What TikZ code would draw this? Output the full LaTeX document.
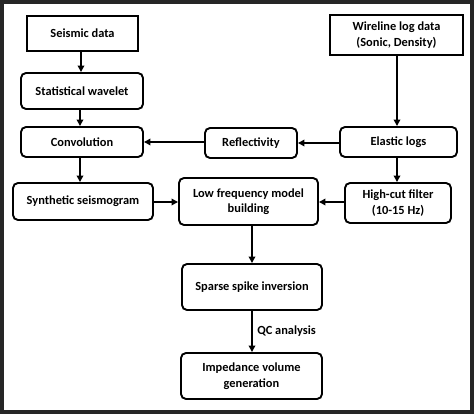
\documentclass[tikz,border=0pt]{standalone}
\usepackage{fontspec}
\setmainfont{Carlito}
\usetikzlibrary{arrows.meta,calc}
\begin{document}
\begin{tikzpicture}[x=1pt,y=-1pt,
  sbox/.style={draw=black,line width=1.9pt,rectangle,inner sep=2pt,font=\bfseries\fontsize{12.4}{15.5}\selectfont,align=center},
  rbox/.style={sbox,rounded corners=5pt},
  arr/.style={line width=1.9pt,-{Triangle[length=6.5pt,width=6.5pt]}},
  lbl/.style={font=\bfseries\fontsize{12.4}{15.5}\selectfont}]
\useasboundingbox (0,0) rectangle (474,414);
\draw[line width=4pt,draw=black!85] (2,2) rectangle (472,412);
\node[sbox,minimum width=111pt,minimum height=35pt] (seis) at (82.5,33.5) {Seismic data};
\node[rbox,minimum width=122pt,minimum height=36pt] (wave) at (82,91) {Statistical wavelet};
\node[rbox,minimum width=122pt,minimum height=30pt] (conv) at (82,142) {Convolution};
\node[rbox,minimum width=140pt,minimum height=37pt] (synth) at (83,201.5) {Synthetic seismogram};
\node[rbox,minimum width=139pt,minimum height=47pt] (lowf) at (248.5,201.5) {Low frequency model\\building};
\node[rbox,minimum width=140pt,minimum height=46pt] (sparse) at (252,287) {Sparse spike inversion};
\node[rbox,minimum width=141pt,minimum height=46pt] (imp) at (251.5,376) {Impedance volume\\generation};
\node[rbox,minimum width=92pt,minimum height=30pt] (refl) at (251,143) {Reflectivity};
\node[rbox,minimum width=117pt,minimum height=30pt] (elas) at (398.5,142) {Elastic logs};
\node[sbox,minimum width=133pt,minimum height=40pt] (wire) at (396.5,35) {Wireline log data\\(Sonic, Density)};
\node[rbox,minimum width=106pt,minimum height=40pt] (hcut) at (398,203) {High-cut filter\\(10-15 Hz)};
\draw[arr] (seis.south -| 81,0) -- (wave.north -| 81,0);
\draw[arr] (wave.south -| 80,0) -- (conv.north -| 80,0);
\draw[arr] (conv.south -| 80,0) -- (synth.north -| 80,0);
\draw[arr] (synth.east |- 0,202) -- (lowf.west |- 0,202);
\draw[arr] (refl.west |- 0,142) -- (conv.east |- 0,142);
\draw[arr] (elas.west |- 0,143) -- (refl.east |- 0,143);
\draw[arr] (wire.south -| 397,0) -- (elas.north -| 397,0);
\draw[arr] (elas.south -| 397,0) -- (hcut.north -| 397,0);
\draw[arr] (hcut.west |- 0,202) -- (lowf.east |- 0,202);
\draw[arr] (lowf.south -| 252,0) -- (sparse.north -| 252,0);
\draw[arr] (sparse.south -| 252,0) -- node[lbl,right=1pt] {QC analysis} (imp.north -| 252,0);
\end{tikzpicture}
\end{document}
